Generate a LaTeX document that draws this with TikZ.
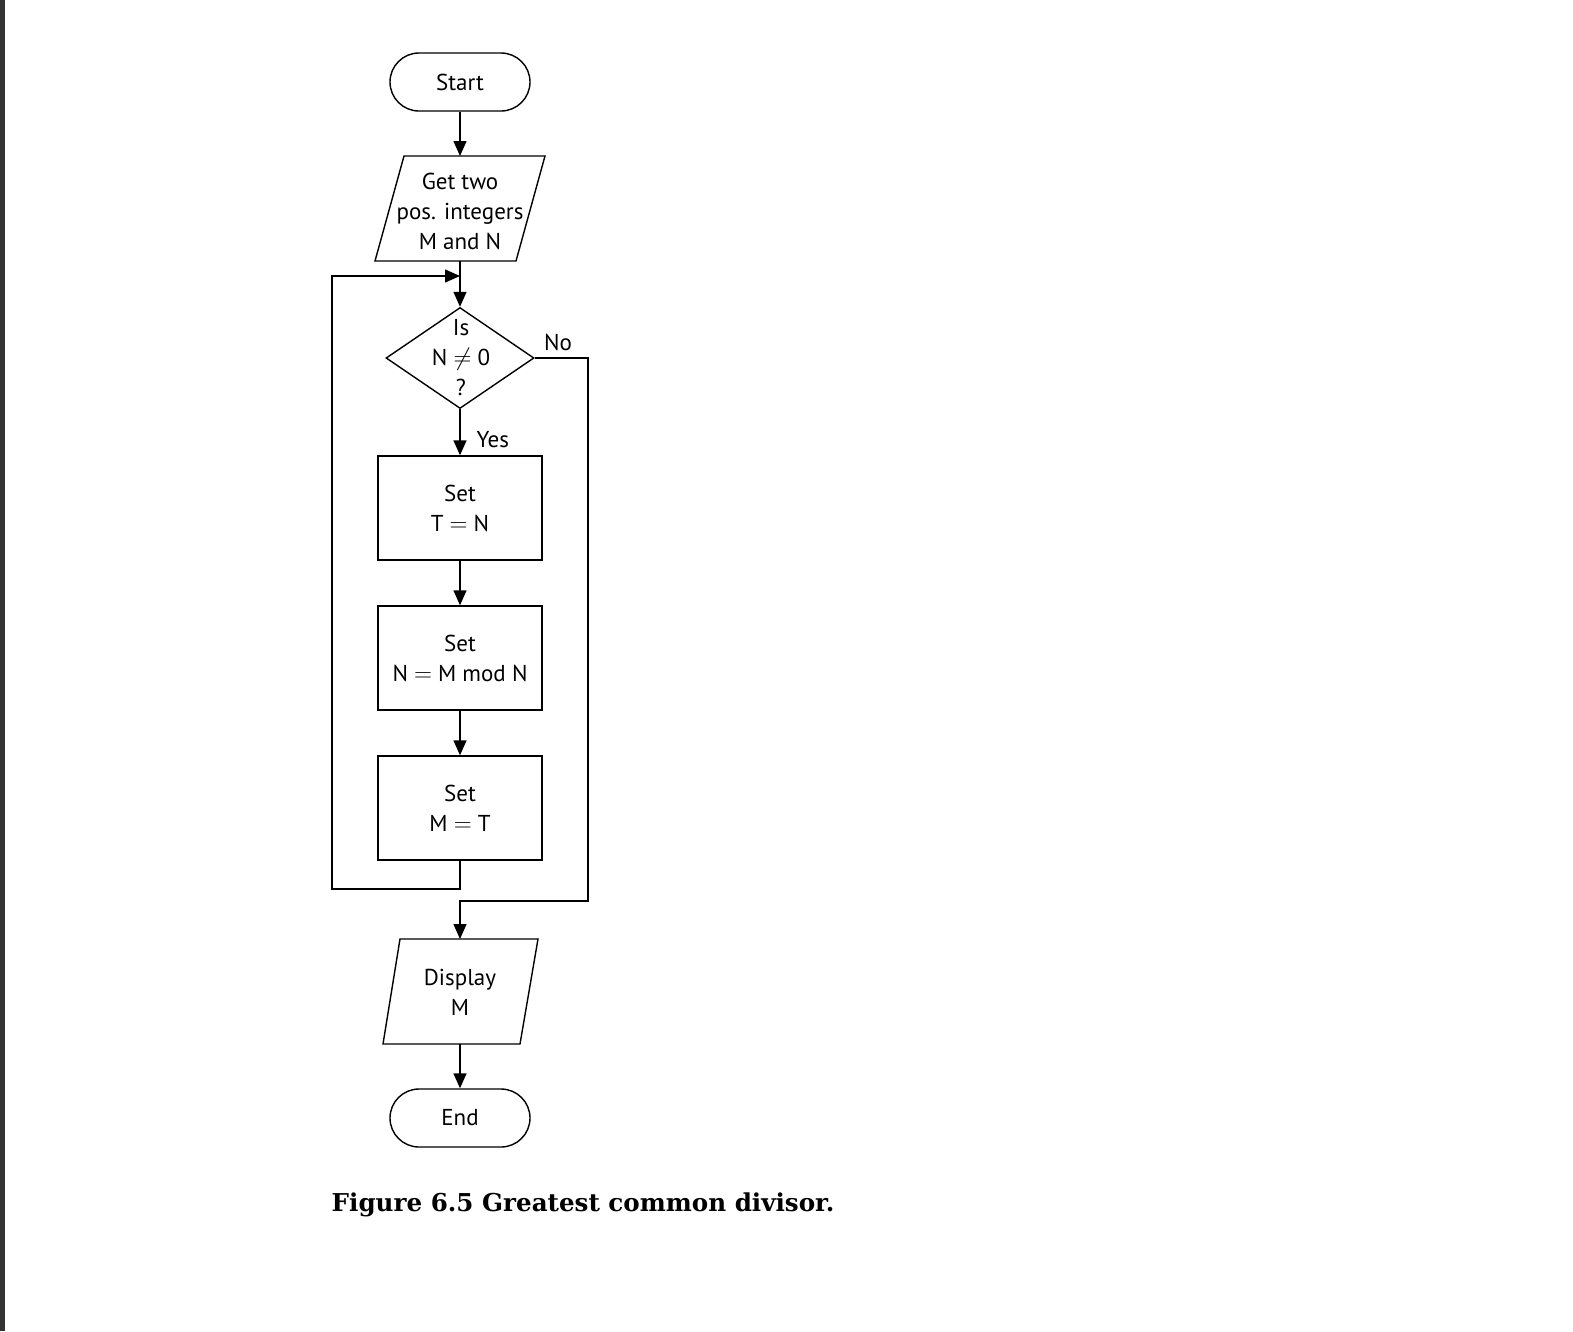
\documentclass[tikz,border=0pt]{standalone}
\usepackage{fontspec}
\setmainfont{PT Sans}
\newfontfamily\capfont{DejaVu Serif}
\usetikzlibrary{arrows.meta,shapes.geometric}
\begin{document}
\begin{tikzpicture}[x=1pt,y=-1pt,line width=1.4pt,
  txt/.style={font=\fontsize{23}{30}\selectfont,align=center,inner sep=0},
  box/.style={draw,txt,rectangle,minimum width=164,minimum height=104},
  arr/.style={-{Triangle[length=15,width=13]}}]
\useasboundingbox (0,0) rectangle (1573,1331);
\fill[black!80] (0,0) rectangle (5,1331);
\node[draw,txt,rectangle,rounded corners=29,minimum width=140,minimum height=58] (start) at (460,82) {Start};
\draw (404,156) -- (545,156) -- (516,261) -- (375,261) -- cycle;
\node[txt] (get) at (460,211) {Get two\\pos. integers\\M and N};
\coordinate (gett) at (460,156); \coordinate (getb) at (460,261);
\node[draw,diamond,aspect=1.47,minimum width=148,minimum height=101,inner sep=0] (dec) at (460,358) {};
\node[txt] at (461,358) {Is\\N $\neq$ 0\\?};
\node[box] (b1) at (460,508) {Set\\T $=$ N};
\node[box] (b2) at (460,658) {Set\\N $=$ M mod N};
\node[box] (b3) at (460,808) {Set\\M $=$ T};
\draw (400,939) -- (538,939) -- (520,1044) -- (383,1044) -- cycle;
\node[txt] (disp) at (460,992) {Display\\M};
\coordinate (dispt) at (460,939); \coordinate (dispb) at (460,1044);
\node[draw,txt,rectangle,rounded corners=29,minimum width=140,minimum height=58] (end) at (460,1118) {End};
\draw[arr] (start.south) -- (gett);
\coordinate (loopin) at (460,276);
\draw[arr] (getb) -- (dec.north);
\draw[arr] (dec.south) -- (b1.north);
\node[txt,anchor=west] at (476,440) {Yes};
\node[txt] at (558,342) {No};
\draw[arr] (b1.south) -- (b2.north);
\draw[arr] (b2.south) -- (b3.north);
\draw[arr] (b3.south) -- (460,889) -- (332,889) -- (332,276) -- (loopin);
\draw[arr] (dec.east) -- (588,358) -- (588,901) -- (460,901) -- (dispt);
\draw[arr] (dispb) -- (end.north);
\node[anchor=west,inner sep=0,font=\capfont\bfseries\fontsize{24.6}{30}\selectfont] (cap) at (331,1205) {Figure 6.5 Greatest common divisor.};
\end{tikzpicture}
\end{document}
